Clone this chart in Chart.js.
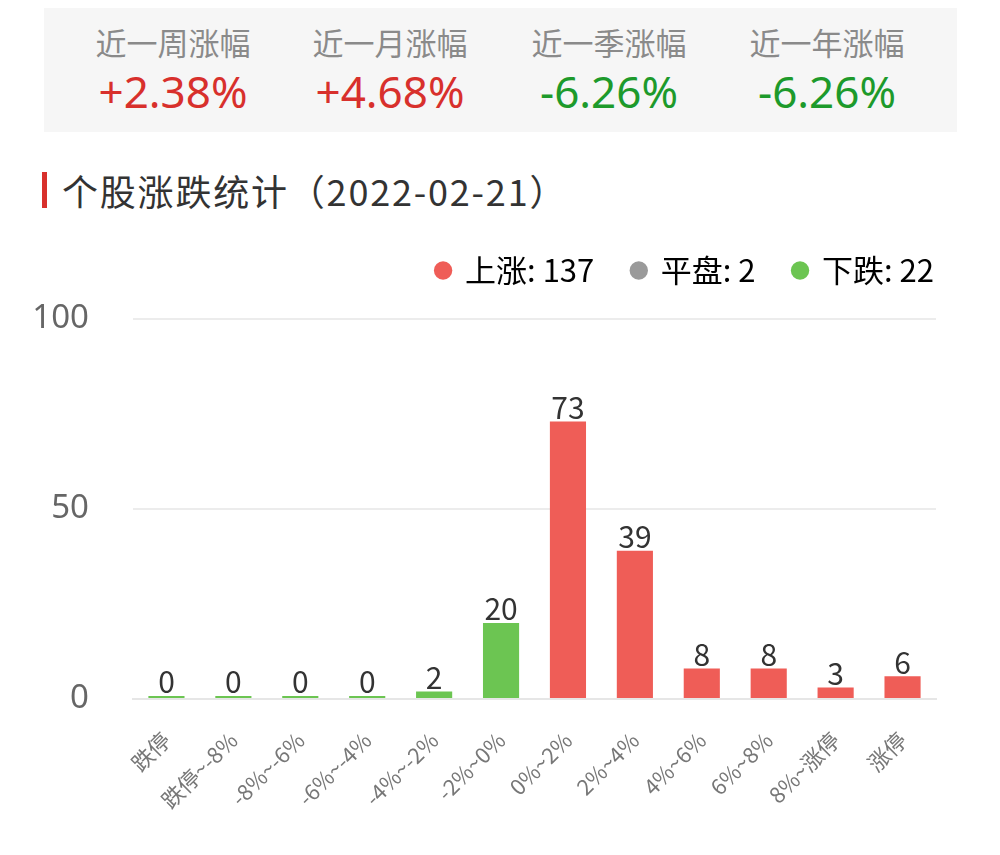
<!DOCTYPE html>
<html>
<head>
<meta charset="utf-8">
<style>
  body { margin: 0; width: 1000px; height: 855px; background: #fff; font-family: "Noto Sans CJK SC", "Noto Sans", sans-serif; position: relative; overflow: hidden; }
  .card { position: absolute; left: 44px; top: 8px; width: 913px; height: 124px; background: #f6f6f6; }
  .cell { position: absolute; top: 12px; width: 220px; text-align: center; }
  .cell .lab { font-size: 31px; color: #8a8a8a; line-height: 44px; }
  .cell .val { font-size: 44px; line-height: 54px; font-family: "Noto Sans", sans-serif; }
  .up { color: #d8302c; }
  .down { color: #1d9a2b; }
  .title { position: absolute; left: 42px; top: 166px; font-size: 36px; letter-spacing: 1.8px; color: #333; line-height: 48px; padding-left: 20px; }
  .title:before { content: ""; position: absolute; left: 0; top: 6px; width: 5px; height: 36px; background: #d8302c; }
  #wrap { position: absolute; left: 0; top: 217px; width: 1000px; height: 638px; }
</style>
</head>
<body>
<div class="card">
  <div class="cell" style="left:19px"><div class="lab">近一周涨幅</div><div class="val up">+2.38%</div></div>
  <div class="cell" style="left:236px"><div class="lab">近一月涨幅</div><div class="val up">+4.68%</div></div>
  <div class="cell" style="left:455px"><div class="lab">近一季涨幅</div><div class="val down">-6.26%</div></div>
  <div class="cell" style="left:673px"><div class="lab">近一年涨幅</div><div class="val down">-6.26%</div></div>
</div>
<div class="title">个股涨跌统计（2022-02-21）</div>
<div id="wrap"><canvas id="barChart"></canvas></div>

<script src="https://cdn.jsdelivr.net/npm/chart.js@4/dist/chart.umd.min.js"></script>
<script>
var labels = ['跌停', '跌停~-8%', '-8%~-6%', '-6%~-4%', '-4%~-2%', '-2%~0%', '0%~2%', '2%~4%', '4%~6%', '6%~8%', '8%~涨停', '涨停'];
var counts = [0, 0, 0, 0, 2, 20, 73, 39, 8, 8, 3, 6];
var legendNames = ['上涨', '平盘', '下跌'];
var legendValues = [137, 2, 22];
var yTicks = [0, 50, 100];

var RED = '#ef5d57', GREEN = '#6cc552', GREY = '#9a9a9a';
var legendColors = [RED, GREY, GREEN];
var barColors = counts.map(function (v, i) { return i < 6 ? GREEN : RED; });
var FONT = '"Noto Sans CJK SC", "Noto Sans", sans-serif';

// numbers above bars
var valueLabels = {
  id: 'valueLabels',
  afterDatasetsDraw: function (chart) {
    var ctx = chart.ctx;
    var meta = chart.getDatasetMeta(0);
    ctx.save();
    ctx.font = '30px ' + FONT;
    ctx.fillStyle = '#333';
    ctx.textAlign = 'center';
    ctx.textBaseline = 'bottom';
    meta.data.forEach(function (bar, i) {
      ctx.fillText(counts[i], bar.x, bar.y + 1);
    });
    ctx.restore();
  }
};

// extra room under the legend, and push it to the right edge
var legendSpace = {
  id: 'legendSpace',
  beforeInit: function (chart) {
    var fit = chart.legend.fit;
    chart.legend.fit = function () {
      fit.call(this);
      this.height += 23;
    };
  },
  afterLayout: function (chart) {
    chart.legend.left += 36;
    chart.legend.right += 36;
  }
};

new Chart(document.getElementById('barChart').getContext('2d'), {
  type: 'bar',
  data: {
    labels: labels,
    datasets: [{
      data: counts,
      backgroundColor: barColors,
      barPercentage: 0.54,
      categoryPercentage: 1,
      minBarLength: 3
    }]
  },
  options: {
    responsive: true,
    maintainAspectRatio: false,
    animation: false,
    layout: { padding: { left: 0, right: 64, top: 0, bottom: 0 } },
    plugins: {
      tooltip: { enabled: false },
      legend: {
        position: 'top',
        align: 'end',
        labels: {
          usePointStyle: true,
          pointStyle: 'circle',
          boxWidth: 13,
          boxHeight: 13,
          padding: 38,
          color: '#333',
          font: { size: 31, family: FONT },
          generateLabels: function () {
            return legendNames.map(function (n, i) {
              return {
                text: n + ': ' + legendValues[i],
                fillStyle: legendColors[i],
                strokeStyle: legendColors[i],
                lineWidth: 0,
                pointStyle: 'circle',
                hidden: false,
                datasetIndex: 0
              };
            });
          }
        },
        onClick: function () {}
      }
    },
    scales: {
      x: {
        grid: { display: false },
        border: { color: '#e6e6e6', width: 2 },
        ticks: {
          color: '#777',
          font: { size: 22, family: FONT },
          minRotation: 45,
          maxRotation: 45,
          padding: 20
        },
        afterFit: function (s) { s.height = 156; }
      },
      y: {
        min: 0,
        max: 100,
        afterBuildTicks: function (s) { s.ticks = yTicks.map(function (v) { return { value: v }; }); },
        grid: { color: '#ececec', lineWidth: 2, drawTicks: false },
        border: { display: false },
        ticks: {
          color: '#666',
          font: { size: 33, family: '"Noto Sans", sans-serif' },
          padding: 44
        },
        afterFit: function (s) { s.width = 133; }
      }
    }
  },
  plugins: [valueLabels, legendSpace]
});
</script>
</body>
</html>
